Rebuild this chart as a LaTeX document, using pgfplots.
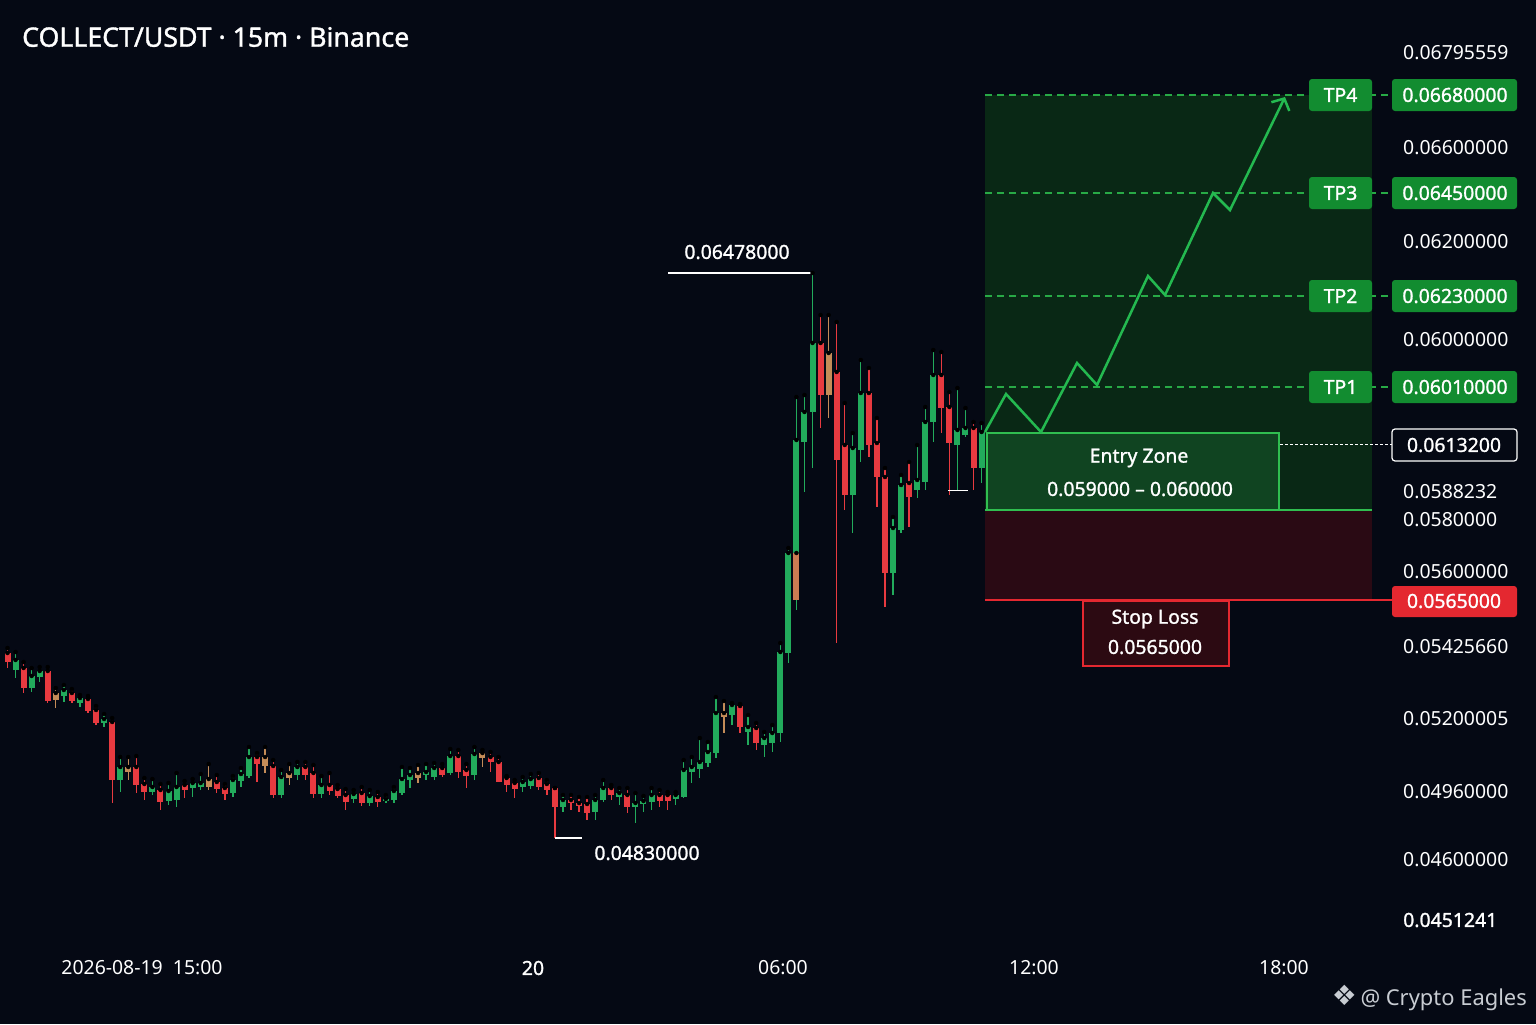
\documentclass[border=0pt]{standalone}
\usepackage{pgfplots}
\pgfplotsset{compat=1.18}
\usepackage{pgfplotstable}
\usetikzlibrary{arrows.meta}
\usepackage{fontspec}
\setmainfont{Noto Sans}[BoldFont={Noto Sans}, BoldFeatures={FakeBold=1.3}]
\newfontfamily\dejavu{DejaVu Sans}

\definecolor{bg}{RGB}{5,9,20}
\definecolor{cg}{RGB}{34,171,92}
\definecolor{cr}{RGB}{232,58,64}
\definecolor{ct}{RGB}{196,140,88}
\definecolor{zoneg}{RGB}{9,40,21}
\definecolor{zoner}{RGB}{42,10,20}
\definecolor{tpg}{RGB}{18,140,48}
\definecolor{dashg}{RGB}{40,170,70}
\definecolor{entryf}{RGB}{17,72,35}
\definecolor{entryb}{RGB}{48,190,80}
\definecolor{slred}{RGB}{228,40,48}
\definecolor{slbox}{RGB}{44,10,18}
\definecolor{arrowg}{RGB}{36,185,80}
\definecolor{wm}{RGB}{200,204,210}

% candle tables, values in chart pixel units (y measured downward): i hi lo bodytop bodybottom
\pgfplotstableread{
i hi lo bt bb
1 652 678 660 670
3 668 692 676 688
4 667 682 671 677
7 685 702 690 696
9 695 707 698 703
12 714 727 719 723
14 757 792 767 780
18 779 795 787 792
20 783 805 791 801
21 773 807 787 800
23 779 797 783 788
24 774 790 783 787
28 776 797 780 793
29 768 787 774 781
30 747 778 757 776
34 770 798 777 795
36 762 780 767 775
39 776 798 785 794
43 790 803 794 799
45 790 806 796 803
47 795 803 799 801
48 787 803 791 800
49 767 795 779 793
50 768 788 775 780
52 764 780 772 775
53 763 780 768 777
55 749 775 756 773
58 747 780 754 775
64 777 792 782 787
65 774 789 779 786
69 795 812 800 807
73 795 820 800 812
74 780 802 788 800
76 788 805 793 797
78 793 823 803 807
79 796 812 801 804
80 788 810 795 802
83 792 805 795 799
84 760 798 770 797
85 757 783 767 772
86 738 778 762 769
87 742 767 752 763
88 697 758 713 753
90 703 725 705 715
92 715 745 727 732
94 732 757 738 745
95 725 752 733 743
96 643 742 652 733
97 548 663 553 653
98 397 610 440 553
99 395 492 412 442
100 273 468 343 412
105 433 533 448 495
106 360 462 393 450
110 517 595 528 573
111 475 533 485 530
113 445 498 480 490
114 407 490 422 482
115 350 442 375 422
118 388 490 430 445
119 408 437 428 435
121 423 483 432 468
}\greentab

\pgfplotstableread{
i hi lo bt bb
0 648 668 653 662
2 662 693 668 688
5 667 703 671 701
8 689 703 693 701
10 696 713 699 711
11 706 725 710 723
13 718 803 722 780
16 756 793 767 785
17 778 800 784 792
19 784 810 790 802
22 781 798 785 790
26 775 793 782 789
27 784 800 788 794
31 753 782 757 764
33 760 798 766 795
37 762 780 767 775
38 765 798 773 794
40 773 795 785 791
41 785 798 789 796
42 789 810 795 802
44 787 806 793 803
46 792 807 797 802
54 764 777 768 775
56 750 778 756 772
57 764 788 770 776
60 752 772 757 762
61 757 782 762 782
62 776 792 778 785
63 780 798 783 789
66 773 790 778 787
67 780 795 784 790
68 788 838 788 807
70 795 810 800 803
71 797 812 803 806
72 797 820 804 813
75 785 800 788 795
77 788 813 795 807
81 790 807 795 801
82 792 810 795 801
91 704 733 706 727
93 723 750 728 743
101 315 428 343 395
103 322 643 372 460
104 403 510 445 495
107 368 457 393 445
108 418 507 443 477
109 468 607 477 573
112 462 527 483 497
116 352 433 375 408
117 392 495 407 443
120 422 490 428 468
}\redtab

\pgfplotstableread{
i hi lo bt bb
6 688 708 693 700
15 757 780 767 772
25 764 790 779 787
32 747 773 757 766
35 764 785 773 778
51 765 783 773 778
59 750 767 753 758
89 701 733 713 717
102 315 418 353 395
}\tantab

\pgfplotsset{
  wick/.style={only marks, mark=none, forget plot,
    error bars/.cd, y dir=plus, y explicit, error mark=none,
    error bar style={line width=1.3bp, color=#1}},
  body/.style={only marks, mark=none, forget plot,
    error bars/.cd, y dir=plus, y explicit, error mark=none,
    error bar style={line width=6bp, color=#1}},
}

\begin{document}
\begin{tikzpicture}
\begin{axis}[width=1536bp, height=1024bp, scale only axis,
  xmin=0, xmax=1536, ymin=0, ymax=1024, y dir=reverse,
  hide axis, clip=false]
\fill[bg] (axis cs:0,0) rectangle (axis cs:1536,1024);

% zones
\fill[zoneg] (axis cs:985,95) rectangle (axis cs:1372,510);
\fill[zoner] (axis cs:985,510) rectangle (axis cs:1372,600);
\draw[entryb, line width=1.5bp] (axis cs:985,510) -- (axis cs:1372,510);

% TP dashed lines
\foreach \yy in {95,193,296,387}{
  \edef\tmp{\noexpand\draw[dashg, line width=1.4bp, dash pattern=on 7bp off 5bp] (axis cs:985,\yy) -- (axis cs:1392,\yy);}\tmp
}

% candles
\addplot[wick=cg] table[x expr=7.5+8.05*\thisrow{i}, y=hi, y error plus expr=\thisrow{lo}-\thisrow{hi}]{\greentab};
\addplot[body=cg] table[x expr=7.5+8.05*\thisrow{i}, y=bt, y error plus expr=\thisrow{bb}-\thisrow{bt}]{\greentab};
\addplot[wick=cr] table[x expr=7.5+8.05*\thisrow{i}, y=hi, y error plus expr=\thisrow{lo}-\thisrow{hi}]{\redtab};
\addplot[body=cr] table[x expr=7.5+8.05*\thisrow{i}, y=bt, y error plus expr=\thisrow{bb}-\thisrow{bt}]{\redtab};
\addplot[wick=ct] table[x expr=7.5+8.05*\thisrow{i}, y=hi, y error plus expr=\thisrow{lo}-\thisrow{hi}]{\tantab};
\addplot[body=ct] table[x expr=7.5+8.05*\thisrow{i}, y=bt, y error plus expr=\thisrow{bb}-\thisrow{bt}]{\tantab};
\addplot[only marks, mark=none, forget plot, error bars/.cd, y dir=plus, y explicit, error mark=none, error bar style={line width=6bp, color=ct!80!cr}] coordinates {(796.4,553) +- (0,47)};

% high / low markers
\draw[white, line width=1.4bp] (axis cs:668,273) -- (axis cs:813,273);
\node[white, font=\bfseries\fontsize{19.5}{22}\selectfont] at (axis cs:737,252) {0.06478000};
\draw[white, line width=1.4bp] (axis cs:555,838) -- (axis cs:582,838);
\node[white, font=\bfseries\fontsize{19.5}{22}\selectfont] at (axis cs:647,853) {0.04830000};
\draw[white!75, line width=1bp] (axis cs:948,490) -- (axis cs:968,490);

% entry box
\fill[entryf, fill opacity=0.9] (axis cs:987,433) rectangle (axis cs:1279,510);
\draw[entryb, line width=1.5bp] (axis cs:987,433) rectangle (axis cs:1279,510);
\node[white, font=\bfseries\fontsize{19.5}{22}\selectfont] at (axis cs:1139,458) {Entry Zone};
\node[white, font=\bfseries\fontsize{19.5}{22}\selectfont] at (axis cs:1140,489) {0.059000 -- 0.060000};

% current price line
\draw[white!85, line width=1bp, dash pattern=on 3bp off 2bp] (axis cs:1280,444) -- (axis cs:1392,444);

% stop loss
\draw[slred, line width=2.4bp] (axis cs:985,600) -- (axis cs:1392,600);
\filldraw[fill=slbox, draw=slred, line width=1.5bp] (axis cs:1083,601) rectangle (axis cs:1229,666);
\node[white, font=\bfseries\fontsize{19.5}{22}\selectfont] at (axis cs:1155,619) {Stop Loss};
\node[white, font=\bfseries\fontsize{19.5}{22}\selectfont] at (axis cs:1155,647) {0.0565000};

% projected path
\addplot[arrowg, line width=2.5bp, -{Straight Barb[length=9bp, width=20bp, line width=2.5bp]}] coordinates {
(985,432) (1006,394) (1041,432) (1077,363) (1097,385) (1148,276) (1165,295) (1213,193) (1230,210) (1285,97)};

% TP boxes
\foreach \yy/\tp/\val in {95/TP4/0.06680000,193/TP3/0.06450000,296/TP2/0.06230000,387/TP1/0.06010000}{
  \edef\tmp{\noexpand\fill[tpg, rounded corners=3bp] (axis cs:1309,\yy-16) rectangle (axis cs:1372,\yy+16);
  \noexpand\node[white, font=\noexpand\bfseries\noexpand\fontsize{19.5}{22}\noexpand\selectfont] at (axis cs:1340.5,\yy) {\tp};
  \noexpand\fill[tpg, rounded corners=3bp] (axis cs:1392,\yy-16) rectangle (axis cs:1517,\yy+16);
  \noexpand\node[white, font=\noexpand\bfseries\noexpand\fontsize{19.5}{22}\noexpand\selectfont] at (axis cs:1455,\yy) {\val};}\tmp
}

% current price box
\filldraw[fill=bg, draw=white!85, line width=1.2bp, rounded corners=3bp] (axis cs:1392,429) rectangle (axis cs:1517,461);
\node[white, font=\bfseries\fontsize{19.5}{22}\selectfont] at (axis cs:1454,445) {0.0613200};
% stop loss value box
\fill[slred, rounded corners=3bp] (axis cs:1392,586) rectangle (axis cs:1517,617);
\node[white, font=\bfseries\fontsize{19.5}{22}\selectfont] at (axis cs:1454,601) {0.0565000};

% right price labels
\foreach \yy/\lab in {53/0.06795559,148/0.06600000,242/0.06200000,340/0.06000000,492/0.0588232,520/0.0580000,572/0.05600000,647/0.05425660,719/0.05200005,792/0.04960000,860/0.04600000}{
  \edef\tmp{\noexpand\node[white!95, anchor=west, inner sep=0pt, font=\noexpand\fontsize{19.5}{22}\noexpand\selectfont] at (axis cs:1403,\yy) {\lab};}\tmp
}
\node[white, anchor=west, inner sep=0pt, font=\bfseries\fontsize{19.5}{22}\selectfont] at (axis cs:1403,920) {0.0451241};

% time labels
\node[white, font=\fontsize{19.5}{22}\selectfont] at (axis cs:142,968) {2026-08-19\ \ 15:00};
\node[white, font=\bfseries\fontsize{19.5}{22}\selectfont] at (axis cs:533,968) {20};
\node[white, font=\fontsize{19.5}{22}\selectfont] at (axis cs:783,968) {06:00};
\node[white, font=\fontsize{19.5}{22}\selectfont] at (axis cs:1034,968) {12:00};
\node[white, font=\fontsize{19.5}{22}\selectfont] at (axis cs:1284,968) {18:00};

% title
\node[white, anchor=west, inner sep=0pt, font=\bfseries\fontsize{26.8}{31}\selectfont] at (axis cs:22,37) {COLLECT/USDT · 15m · Binance};

% watermark
\node[wm, anchor=east, inner sep=0pt, font=\fontsize{22}{26}\selectfont] at (axis cs:1527,998) {{\dejavu\fontsize{28}{30}\selectfont ❖}\,@ Crypto Eagles};
\end{axis}
\end{tikzpicture}
\end{document}
